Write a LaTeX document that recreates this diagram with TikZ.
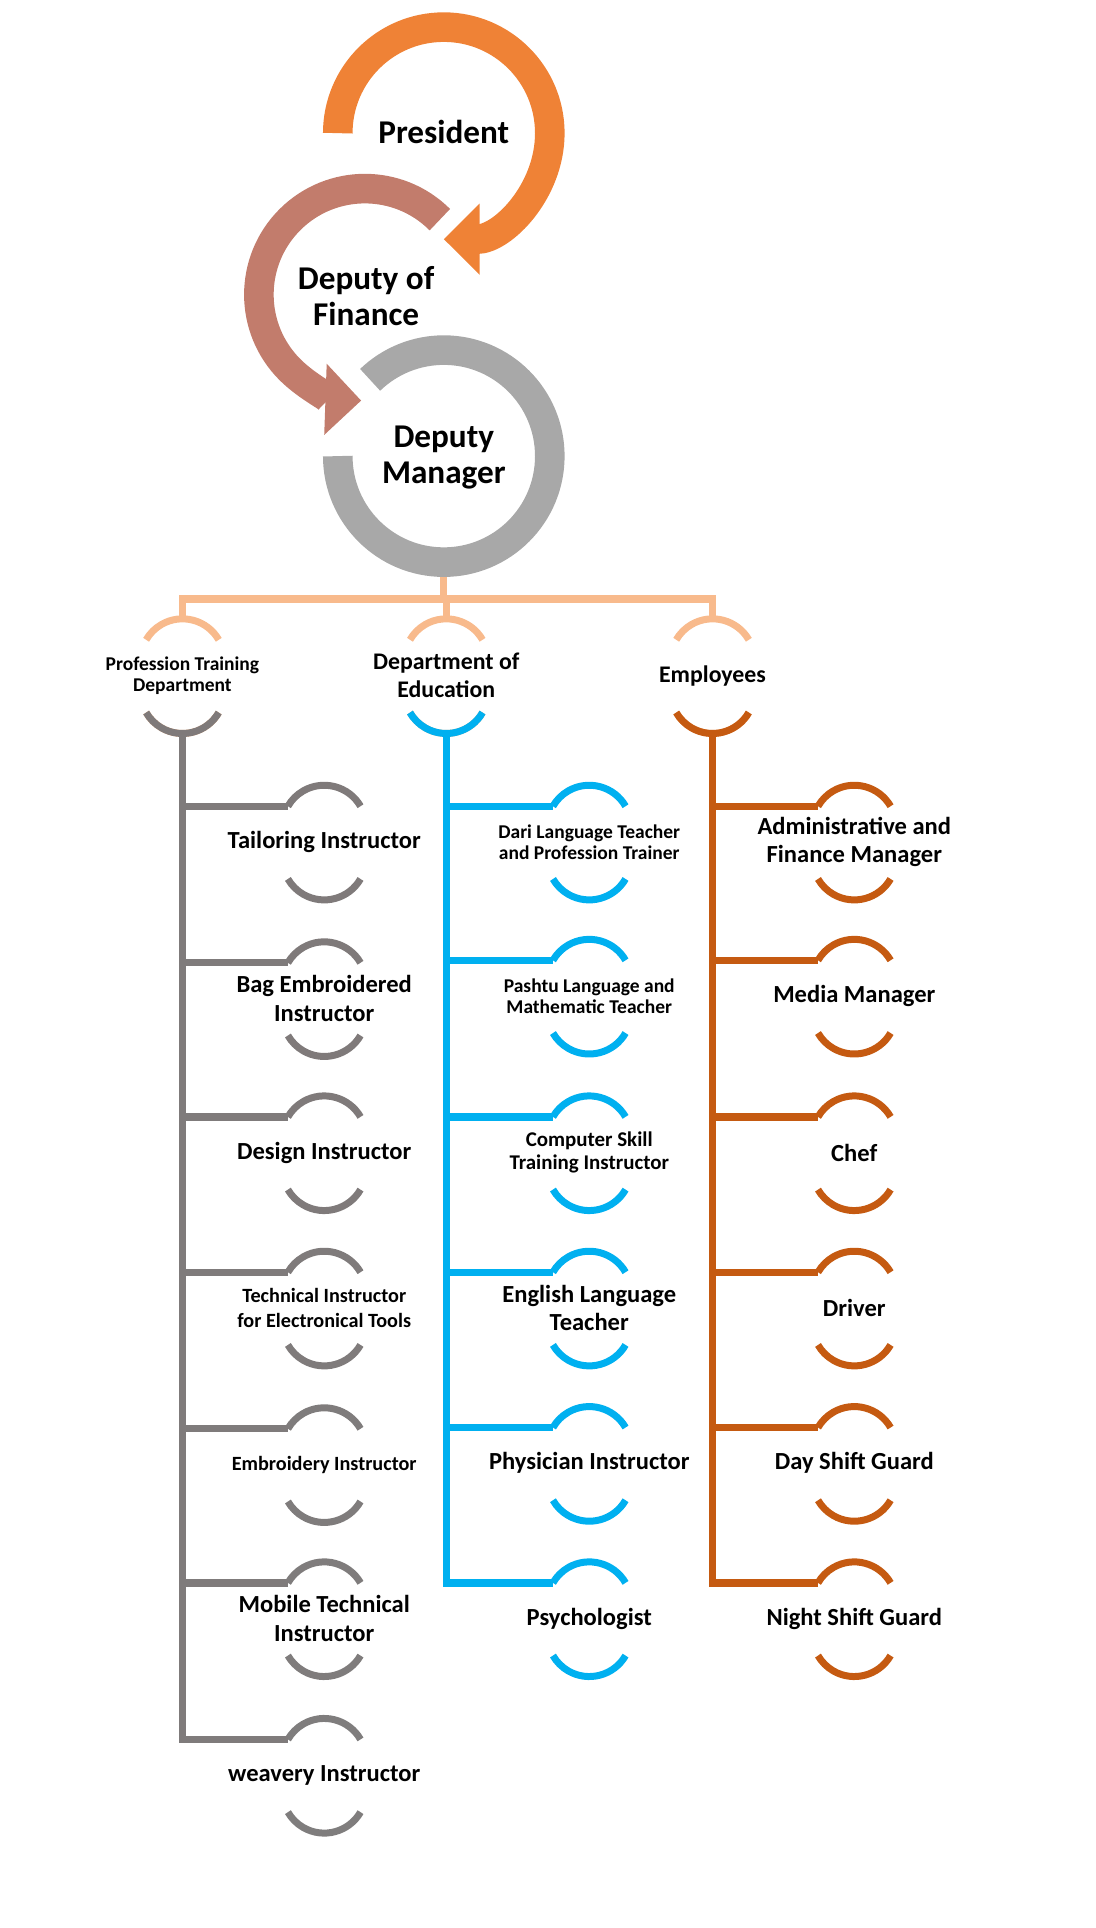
\documentclass[tikz,border=0pt]{standalone}
\usepackage{fontspec}
\setmainfont{Carlito}
\usetikzlibrary{arrows.meta}
\definecolor{pres}{HTML}{EF8236}
\definecolor{fin}{HTML}{C27C6C}
\definecolor{mgr}{HTML}{A8A8A8}
\definecolor{peach}{HTML}{F8BA8C}
\definecolor{gcol}{HTML}{7F7A7A}
\definecolor{bcol}{HTML}{00B0F0}
\definecolor{ocol}{HTML}{C55A11}
\tikzset{
  ring/.style={line width=0.72cm},
  bar/.style={line width=0.18cm},
  capline/.style={line width=0.17cm},
  lbl/.style={align=center, font=\bfseries, inner sep=0pt},
}
\newcommand\child[7]{% name,x,y,color,size,skip,text
  \node[lbl, font=\fontsize{#5}{#6}\selectfont\bfseries] (#1) at (#2,#3) {#7};
  \draw[capline,#4] (#2,#3) ++(0,-12) ++(-30:34) arc[start angle=-30,end angle=-150,radius=34];
  \draw[capline,#4] (#2,#3) ++(0,13) ++(30:34) arc[start angle=30,end angle=150,radius=34];
  \coordinate (#1-l) at ($(#2,#3)+(-29.4,-29)$);
}
\usetikzlibrary{calc}
\begin{document}
\begin{tikzpicture}[x=0.03cm,y=-0.03cm]
\useasboundingbox (0,0) rectangle (889,1564);
% top rings
\draw[ring,pres,-{Triangle[length=0.87cm,width=1.68cm]}] (274,108) arc[start angle=180,end angle=450,radius=86];
\draw[ring,fin,-{Triangle[length=0.87cm,width=1.68cm]}] (296,239) ++(-45:86) arc[start angle=-45,end angle=-268,radius=86];
\draw[ring,mgr] (274,370) arc[start angle=-180,end angle=-494,radius=86];
\node[lbl,font=\fontsize{23}{25}\selectfont\bfseries] (pr) at (360,107) {President};
\node[lbl,font=\fontsize{23}{25}\selectfont\bfseries] (df) at (297,240) {Deputy of\\Finance};
\node[lbl,font=\fontsize{23}{25}\selectfont\bfseries] (dm) at (360,371) {Deputy\\Manager};
% tree to departments
\coordinate (mb) at (360,468);
\coordinate (hb) at (360,486);
\coordinate (p1) at (148,503);
\coordinate (p2) at (362,503);
\coordinate (p3) at (578,503);
\draw[bar,peach] (mb) -- (hb);
\draw[bar,peach] (p1) |- (hb) -| (p3);
\draw[bar,peach] (hb -| p2) -- (p2);
\child{ptd}{148}{548}{peach}{13.5}{14.5}{Profession Training\\Department}
\child{doe}{362}{548}{peach}{16.5}{19.5}{Department of\\Education}
\child{emp}{578}{548}{peach}{16.5}{19.5}{Employees}
% recolor bottom caps
\draw[capline,gcol] (148,561) ++(30:34) arc[start angle=30,end angle=150,radius=34];
\draw[capline,bcol] (362,561) ++(30:34) arc[start angle=30,end angle=150,radius=34];
\draw[capline,ocol] (578,561) ++(30:34) arc[start angle=30,end angle=150,radius=34];
\coordinate (gtop) at (148,596);
\coordinate (btop) at (362,596);
\coordinate (otop) at (578,596);
% gray column
\child{g1}{263}{683}{gcol}{17}{20}{Tailoring Instructor}
\child{g2}{263}{810}{gcol}{17}{20}{Bag Embroidered\\Instructor}
\child{g3}{263}{935}{gcol}{17}{20}{Design Instructor}
\child{g4}{263}{1061}{gcol!85!gray}{14}{17}{Technical Instructor\\for Electronical Tools}
\child{g5}{263}{1188}{gcol!70!gray}{14}{17}{Embroidery Instructor}
\child{g6}{263}{1313}{gcol!60!gray}{17}{20}{Mobile Technical\\Instructor}
\child{g7}{263}{1440}{gcol!50!gray}{17}{20}{weavery Instructor}
\coordinate (gend) at (148,1411);
\draw[bar,gcol!80!gray] (gtop) -- (gend) -- (g7-l);
\foreach \n in {g1,g2,g3,g4,g5,g6} \draw[bar,gcol!80!gray] (\n-l -| gtop) -- (\n-l);
% blue column
\child{b1}{478}{683}{bcol}{13.5}{14.5}{Dari Language Teacher\\and Profession Trainer}
\child{b2}{478}{808}{bcol}{13.5}{14.5}{Pashtu Language and\\Mathematic Teacher}
\child{b3}{478}{935}{bcol}{14.5}{16}{Computer Skill\\Training Instructor}
\child{b4}{478}{1061}{bcol}{17}{20}{English Language\\Teacher}
\child{b5}{478}{1187}{bcol}{17}{20}{Physician Instructor}
\child{b6}{478}{1313}{bcol}{17}{20}{Psychologist}
\coordinate (bend) at (362,1284);
\draw[bar,bcol] (btop) -- (bend) -- (b6-l);
\foreach \n in {b1,b2,b3,b4,b5} \draw[bar,bcol] (\n-l -| btop) -- (\n-l);
% orange column
\child{o1}{693}{683}{ocol}{17}{20}{Administrative and\\Finance Manager}
\child{o2}{693}{808}{ocol}{17}{20}{Media Manager}
\child{o3}{693}{935}{ocol}{17}{20}{Chef}
\child{o4}{693}{1061}{ocol}{17}{20}{Driver}
\child{o5}{693}{1187}{ocol}{17}{20}{Day Shift Guard}
\child{o6}{693}{1313}{ocol}{17}{20}{Night Shift Guard}
\coordinate (oend) at (578,1284);
\draw[bar,ocol] (otop) -- (oend) -- (o6-l);
\foreach \n in {o1,o2,o3,o4,o5} \draw[bar,ocol] (\n-l -| otop) -- (\n-l);
\end{tikzpicture}
\end{document}
